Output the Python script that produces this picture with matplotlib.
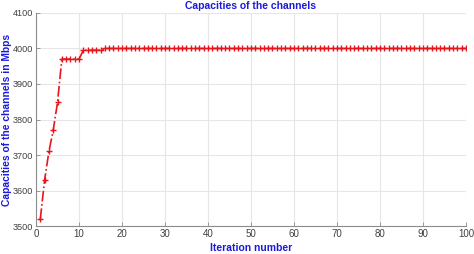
import matplotlib
matplotlib.use("Agg")
import matplotlib.pyplot as plt

plt.rcParams['font.family'] = ['Liberation Sans', 'DejaVu Sans']

iterations = list(range(1, 101))
capacity = [3520, 3630, 3710, 3770, 3848,
            3970, 3970, 3970, 3970, 3970,
            3995, 3995, 3995, 3995, 3995] + [4000] * 85

xticks = [0, 10, 20, 30, 40, 50, 60, 70, 80, 90, 100]
yticks = [3500, 3600, 3700, 3800, 3900, 4000, 4100]

fig = plt.figure(figsize=(4.74, 2.54), dpi=100)
ax = fig.add_axes([0.076, 0.110, 0.907, 0.839])
ax.plot(iterations, capacity, color='#e8141c', linestyle='-.', linewidth=1.2,
        marker='+', markersize=4, markeredgewidth=1.0)
ax.set_xlim(0, 100)
ax.set_ylim(3500, 4100)
ax.set_xticks(xticks)
ax.set_yticks(yticks)
ax.grid(True, color='#e6e6e6', linewidth=0.8)
ax.set_axisbelow(True)
for s in ['top', 'right']:
    ax.spines[s].set_visible(False)
for s in ['left', 'bottom']:
    ax.spines[s].set_color('#8c8c8c')
ax.tick_params(axis='both', labelsize=6.6, length=3, width=0.6, direction='in',
               colors='#8c8c8c', labelcolor='#404040', pad=2)
ax.tick_params(axis='x', labelsize=7)
ax.set_title('Capacities of the channels', color='#1a1adb', fontweight='bold',
             fontsize=7.5, pad=3)
ax.set_xlabel('Iteration number', color='#1a1adb', fontweight='bold', fontsize=7.5, labelpad=3)
ax.set_ylabel('Capacities of the channels in Mbps', color='#1a1adb', fontweight='bold',
              fontsize=7.4, va='center')
ax.yaxis.set_label_coords(-0.068, 0.5)
fig.savefig('out.png', dpi=100)
